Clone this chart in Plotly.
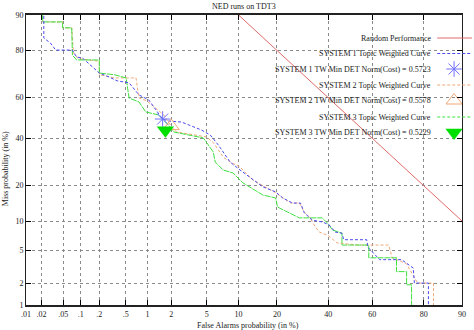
import plotly.graph_objects as go
from statistics import NormalDist

# ---------------- data (percent) ----------------
x_ticks = [0.01, 0.02, 0.05, 0.1, 0.2, 0.5, 1, 2, 5, 10, 20, 40, 60, 80, 90]
x_tick_labels = [".01", ".02", ".05", ".1", ".2", ".5", "1", "2", "5", "10", "20", "40", "60", "80", "90"]
y_ticks = [1, 2, 5, 10, 20, 40, 60, 80, 90]
y_tick_labels = ["1", "2", "5", "10", "20", "40", "60", "80", "90"]

random_fa = [5, 95]
random_miss = [95, 5]

sys1_fa = [0.022, 0.022, 0.029, 0.0365, 0.072, 0.085, 0.107, 0.20, 0.285, 0.375, 0.56, 0.77, 1.04, 1.57,
           1.85, 2.65, 4.38, 5.42, 6.5, 8.41, 10.3, 10.9, 15.8, 19.6, 21.9, 25.4, 28.4, 29.9, 33.2, 37.4,
           40.4, 43.1, 46.2, 47.0, 57.5, 58.0, 63.2, 72.2, 76.5, 76.9, 81.5, 81.5]
sys1_miss = [99, 84.0, 82.5, 80.1, 80.1, 77.6, 77.2, 71.2, 69.5, 67.8, 66.9, 61.3, 58.9, 49.5,
             48.5, 48.0, 44.1, 41.6, 36.9, 29.2, 25.9, 25.1, 19.6, 17.9, 16.0, 14.5, 14.5, 11.9, 10.2, 9.8,
             9.2, 7.8, 7.6, 6.5, 6.5, 5.4, 3.9, 3.9, 3.1, 2.0, 2.0, 0.1]

sys2_fa = [0.021, 0.021, 0.0485, 0.0485, 0.070, 0.075, 0.09, 0.20, 0.20, 0.34, 0.70, 0.77, 0.98, 1.62,
           2.0, 2.32, 4.94, 5.81, 7.24, 8.41, 10.3, 13.2, 19.6, 24.7, 28.0, 29.9, 32.0, 34.4, 36.1,
           40.0, 44.0, 53.9, 67.0, 68.5, 74.0, 78.0, 83.0, 83.0]
sys2_miss = [99, 88.4, 88.4, 86.9, 86.9, 79.0, 77.0, 76.0, 70.5, 69.1, 69.1, 59.8, 58.5, 51.5,
             46.0, 43.1, 40.7, 38.0, 31.4, 29.2, 27.1, 22.0, 17.6, 14.5, 14.5, 12.1, 10.9, 8.8, 7.8,
             7.2, 6.0, 5.7, 5.7, 4.1, 3.5, 2.0, 2.0, 0.1]

sys3_fa = [0.021, 0.021, 0.0485, 0.0485, 0.070, 0.072, 0.085, 0.20, 0.20, 0.34, 0.507, 0.56, 0.77, 0.95,
           1.40, 2.0, 2.14, 4.60, 5.81, 6.07, 7.24, 8.95, 10.9, 15.8, 19.6, 20.2, 23.6, 28.0, 37.4, 40.4,
           41.8, 46.2, 46.2, 58.4, 58.4, 70.2, 70.2, 74.1, 74.1, 75.9, 75.9]
sys3_miss = [99, 88.4, 88.4, 86.9, 86.9, 78.3, 76.5, 76.5, 71.2, 70.5, 69.1, 59.8, 57.9, 53.0,
             51.5, 45.0, 43.1, 40.2, 33.6, 29.2, 25.9, 24.7, 21.0, 16.9, 16.0, 13.4, 12.1, 10.7, 10.7, 9.2,
             8.2, 7.6, 5.7, 5.7, 4.1, 4.1, 2.8, 2.8, 1.9, 1.9, 0.1]

min_fa = [1.57, 2.0, 1.7]
min_miss = [49.5, 46.0, 44.0]

legend_labels = ["Random Performance",
                 "SYSTEM 1 Topic Weighted Curve",
                 "SYSTEM 1 TW Min DET Norm(Cost) = 0.5723",
                 "SYSTEM 2 Topic Weighted Curve",
                 "SYSTEM 2 TW Min DET Norm(Cost) = 0.5578",
                 "SYSTEM 3 Topic Weighted Curve",
                 "SYSTEM 3 TW Min DET Norm(Cost) = 0.5229"]

# ---------------- helpers ----------------
nd = NormalDist()


def pr(vals):
    return [nd.inv_cdf(min(max(v, 1e-6), 100 - 1e-6) / 100.0) for v in vals]


RED = "#e06a6a"
BLUE = "#4a4af0"
STAR = "#7070ff"
ORANGE = "#f0a878"
GREEN = "#3ee03e"
GREEN_TRI = "#00e000"
FONT = "Liberation Serif"
FS = 8

fig = go.Figure()

fig.add_trace(go.Scatter(x=pr(random_fa), y=pr(random_miss), mode="lines",
                         line=dict(color=RED, width=1), showlegend=False))
fig.add_trace(go.Scatter(x=pr(sys2_fa), y=pr(sys2_miss), mode="lines",
                         line=dict(color=ORANGE, width=1, dash="3px,2px"), showlegend=False))
fig.add_trace(go.Scatter(x=pr(sys3_fa), y=pr(sys3_miss), mode="lines",
                         line=dict(color=GREEN, width=1, dash="6px,1px"), showlegend=False))
fig.add_trace(go.Scatter(x=pr(sys1_fa), y=pr(sys1_miss), mode="lines",
                         line=dict(color=BLUE, width=1, dash="3px,2px"), showlegend=False))

marker_styles = [
    dict(symbol="asterisk-open", size=13, color=STAR, line=dict(color=STAR, width=1)),
    dict(symbol="triangle-up-open", size=14, color=ORANGE, line=dict(color=ORANGE, width=1)),
    dict(symbol="triangle-down", size=15, color=GREEN_TRI, line=dict(color=GREEN_TRI, width=0)),
]
for i, ms in enumerate(marker_styles):
    fig.add_trace(go.Scatter(x=pr([min_fa[i]]), y=pr([min_miss[i]]), mode="markers",
                             marker=ms, showlegend=False))

# ---------------- manual legend (right-aligned text, sample to the right) ----------------
plot_l, plot_r, plot_t, plot_b = 26, 466, 15, 305
pw, ph = plot_r - plot_l, plot_b - plot_t


def px_x(p):
    return (p - plot_l) / pw


def px_y(p):
    return (plot_b - p) / ph


row_y = [38, 53.5, 69, 85, 100.5, 117, 132.5]
annotations = []
shapes = []
for lab, ry in zip(legend_labels, row_y):
    annotations.append(dict(x=px_x(437), y=px_y(ry), xref="paper", yref="paper", text=lab,
                            showarrow=False, xanchor="right", yanchor="middle",
                            font=dict(family=FONT, size=FS, color="#222")))

line_rows = [(0, RED, "solid"), (1, BLUE, "3px,2px"), (3, ORANGE, "3px,2px"), (5, GREEN, "3px,2px")]
for idx, col, dsh in line_rows:
    shapes.append(dict(type="line", xref="paper", yref="paper", x0=px_x(441), x1=px_x(476),
                       y0=px_y(row_y[idx]), y1=px_y(row_y[idx]), line=dict(color=col, width=1, dash=dsh)))

for i, ms in zip([2, 4, 6], marker_styles):
    fig.add_trace(go.Scatter(x=[px_x(458)], y=[px_y(row_y[i])], mode="markers", marker=ms,
                             xaxis="x2", yaxis="y2", showlegend=False, cliponaxis=False))

annotations.append(dict(x=px_x(246), y=px_y(6), xref="paper", yref="paper", text="NED runs on TDT3",
                        showarrow=False, xanchor="center", yanchor="middle",
                        font=dict(family=FONT, size=FS, color="#222")))
annotations.append(dict(x=px_x(250), y=px_y(325), xref="paper", yref="paper",
                        text="False Alarms probability (in %)", showarrow=False,
                        xanchor="center", yanchor="middle", font=dict(family=FONT, size=FS, color="#222")))
annotations.append(dict(x=px_x(5), y=px_y(169), xref="paper", yref="paper",
                        text="Miss probability (in %)", showarrow=False, textangle=-90,
                        xanchor="center", yanchor="middle", font=dict(family=FONT, size=FS, color="#222")))

axis_common = dict(showgrid=True, gridcolor="#8a8a8a", griddash="dot", gridwidth=1,
                   ticks="inside", ticklen=5, tickcolor="#000", tickwidth=1,
                   showline=True, mirror="allticks", zeroline=False,
                   tickfont=dict(family=FONT, size=FS, color="#222"))

fig.update_layout(
    width=474, height=330,
    margin=dict(l=plot_l, r=474 - plot_r, t=plot_t, b=330 - plot_b),
    paper_bgcolor="white", plot_bgcolor="white",
    xaxis=dict(range=[nd.inv_cdf(0.0001), nd.inv_cdf(0.9)], tickmode="array",
               tickvals=pr(x_ticks), ticktext=x_tick_labels, linecolor="#222", linewidth=2,
               **axis_common),
    yaxis=dict(range=[nd.inv_cdf(0.01), nd.inv_cdf(0.9)], tickmode="array",
               tickvals=pr(y_ticks), ticktext=y_tick_labels, linecolor="#222", linewidth=1,
               **axis_common),
    xaxis2=dict(overlaying="x", range=[0, 1], visible=False),
    yaxis2=dict(overlaying="y", range=[0, 1], visible=False),
    annotations=annotations,
    shapes=shapes,
    showlegend=False,
)

fig.write_html("out.html")
